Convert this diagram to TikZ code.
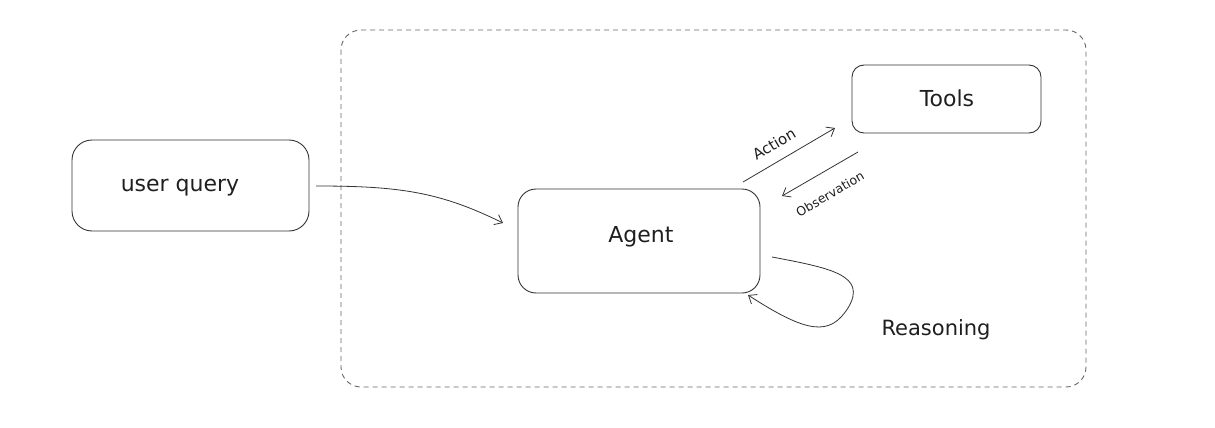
\documentclass[tikz,border=0pt]{standalone}
\usepackage{fontspec}
\setmainfont{DejaVu Sans}
\usetikzlibrary{arrows.meta}
\begin{document}
\begin{tikzpicture}[x=1pt,y=-1pt,
  box/.style={draw=black!80, line width=0.9pt, rounded corners=#1},
  conn/.style={draw=black!80, line width=0.8pt, -{Straight Barb[length=7pt,width=11pt]}},
  lbl/.style={font=\fontsize{#1}{#1}\selectfont, text=black!88, inner sep=0pt},
  container/.style={draw=black!60, line width=0.9pt, dash pattern=on 5pt off 4pt, rounded corners=20pt}]
\useasboundingbox (0,0) rectangle (1215,428);
\path[container] (341,30) rectangle (1086,387);
\draw[box=20pt] (72,140) rectangle (309,231);
\node[lbl=22] (uq) at (180,188) {user query};
\coordinate (uqR) at (316,186);
\draw[box=18pt] (518,189) rectangle (760,293);
\node[lbl=22] (agent) at (641,237) {Agent};
\draw[box=12pt] (852,65) rectangle (1041,133);
\node[lbl=22] (tools) at (947,98) {Tools};
\coordinate (agIn) at (503,223);
\coordinate (actS) at (743,182);
\coordinate (actE) at (835,128);
\coordinate (obsS) at (858,152);
\coordinate (obsE) at (782,196);
\coordinate (rsS) at (772,257);
\coordinate (rsE) at (748,295);
\draw[conn] (uqR) .. controls (400,186) and (440,192) .. (agIn);
\draw[conn] (actS) -- (actE);
\draw[conn] (obsS) -- (obsE);
\draw[conn] (rsS) .. controls (830,268) and (868,275) .. (848,308)
  .. controls (830,336) and (808,334) .. (rsE);
\node[lbl=15, rotate=30.4] (act) at (774,144) {Action};
\node[lbl=12.5, rotate=30] (obs) at (830,194) {Observation};
\node[lbl=21] (rs) at (936,330) {Reasoning};
\end{tikzpicture}
\end{document}
